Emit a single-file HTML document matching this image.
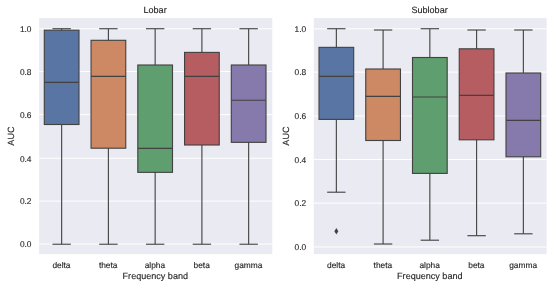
<!DOCTYPE html>
<html><head><meta charset="utf-8"><title>AUC by frequency band</title>
<style>
html,body{margin:0;padding:0;background:#fff;}
svg{display:block}
text{font-family:"Liberation Sans",sans-serif;fill:#262626;stroke:#262626;stroke-width:0.13px;text-rendering:geometricPrecision}
.t{font-size:8.35px}
.l{font-size:9.05px}
.ti{font-size:9.05px}
</style></head><body>
<svg width="550" height="286" viewBox="0 0 550 286">
<rect width="550" height="286" fill="#fff"/>
<rect x="39.1" y="18.06" width="233.20" height="236.04" fill="#EAEAF2"/>
<line x1="39.1" x2="272.3" y1="244.00" y2="244.00" stroke="#fff" stroke-width="1.0"/>
<text x="31.5" y="247.25" text-anchor="end" class="t">0.0</text>
<line x1="39.1" x2="272.3" y1="201.10" y2="201.10" stroke="#fff" stroke-width="1.0"/>
<text x="31.5" y="204.35" text-anchor="end" class="t">0.2</text>
<line x1="39.1" x2="272.3" y1="158.25" y2="158.25" stroke="#fff" stroke-width="1.0"/>
<text x="31.5" y="161.50" text-anchor="end" class="t">0.4</text>
<line x1="39.1" x2="272.3" y1="114.60" y2="114.60" stroke="#fff" stroke-width="1.0"/>
<text x="31.5" y="117.85" text-anchor="end" class="t">0.6</text>
<line x1="39.1" x2="272.3" y1="71.50" y2="71.50" stroke="#fff" stroke-width="1.0"/>
<text x="31.5" y="74.75" text-anchor="end" class="t">0.8</text>
<line x1="39.1" x2="272.3" y1="28.80" y2="28.80" stroke="#fff" stroke-width="1.0"/>
<text x="31.5" y="32.05" text-anchor="end" class="t">1.0</text>
<line x1="61.65" x2="61.65" y1="28.72" y2="244.22" stroke="#424242" stroke-width="1.12"/>
<line x1="52.45" x2="70.85" y1="244.22" y2="244.22" stroke="#424242" stroke-width="1.12"/>
<line x1="52.45" x2="70.85" y1="28.72" y2="28.72" stroke="#424242" stroke-width="1.12"/>
<rect x="44.30" y="30.20" width="34.70" height="94.30" fill="#5875A4" stroke="#424242" stroke-width="1.12"/>
<line x1="44.30" x2="79.00" y1="82.40" y2="82.40" stroke="#424242" stroke-width="1.12"/>
<text x="61.45" y="268.00" text-anchor="middle" class="t">delta</text>
<line x1="108.40" x2="108.40" y1="28.72" y2="244.22" stroke="#424242" stroke-width="1.12"/>
<line x1="99.20" x2="117.60" y1="244.22" y2="244.22" stroke="#424242" stroke-width="1.12"/>
<line x1="99.20" x2="117.60" y1="28.72" y2="28.72" stroke="#424242" stroke-width="1.12"/>
<rect x="91.05" y="40.30" width="34.70" height="107.90" fill="#CC8963" stroke="#424242" stroke-width="1.12"/>
<line x1="91.05" x2="125.75" y1="76.40" y2="76.40" stroke="#424242" stroke-width="1.12"/>
<text x="108.20" y="268.00" text-anchor="middle" class="t">theta</text>
<line x1="155.15" x2="155.15" y1="28.72" y2="244.22" stroke="#424242" stroke-width="1.12"/>
<line x1="145.95" x2="164.35" y1="244.22" y2="244.22" stroke="#424242" stroke-width="1.12"/>
<line x1="145.95" x2="164.35" y1="28.72" y2="28.72" stroke="#424242" stroke-width="1.12"/>
<rect x="137.80" y="65.00" width="34.70" height="107.35" fill="#5F9E6E" stroke="#424242" stroke-width="1.12"/>
<line x1="137.80" x2="172.50" y1="148.40" y2="148.40" stroke="#424242" stroke-width="1.12"/>
<text x="154.95" y="268.00" text-anchor="middle" class="t">alpha</text>
<line x1="201.90" x2="201.90" y1="28.72" y2="244.22" stroke="#424242" stroke-width="1.12"/>
<line x1="192.70" x2="211.10" y1="244.22" y2="244.22" stroke="#424242" stroke-width="1.12"/>
<line x1="192.70" x2="211.10" y1="28.72" y2="28.72" stroke="#424242" stroke-width="1.12"/>
<rect x="184.55" y="52.40" width="34.70" height="92.60" fill="#B55D60" stroke="#424242" stroke-width="1.12"/>
<line x1="184.55" x2="219.25" y1="76.40" y2="76.40" stroke="#424242" stroke-width="1.12"/>
<text x="201.70" y="268.00" text-anchor="middle" class="t">beta</text>
<line x1="248.65" x2="248.65" y1="28.72" y2="244.22" stroke="#424242" stroke-width="1.12"/>
<line x1="239.45" x2="257.85" y1="244.22" y2="244.22" stroke="#424242" stroke-width="1.12"/>
<line x1="239.45" x2="257.85" y1="28.72" y2="28.72" stroke="#424242" stroke-width="1.12"/>
<rect x="231.30" y="65.00" width="34.70" height="77.35" fill="#857AAB" stroke="#424242" stroke-width="1.12"/>
<line x1="231.30" x2="266.00" y1="100.30" y2="100.30" stroke="#424242" stroke-width="1.12"/>
<text x="248.45" y="268.00" text-anchor="middle" class="t">gamma</text>
<text x="155.10" y="13.46" text-anchor="middle" class="ti">Lobar</text>
<text x="155.30" y="279.30" text-anchor="middle" class="l">Frequency band</text>
<text transform="translate(13.80 136.08) rotate(-90)" text-anchor="middle" class="l">AUC</text>
<rect x="313.8" y="18.06" width="232.80" height="236.04" fill="#EAEAF2"/>
<line x1="313.8" x2="546.6" y1="246.95" y2="246.95" stroke="#fff" stroke-width="1.0"/>
<text x="306.2" y="250.20" text-anchor="end" class="t">0.0</text>
<line x1="313.8" x2="546.6" y1="203.10" y2="203.10" stroke="#fff" stroke-width="1.0"/>
<text x="306.2" y="206.35" text-anchor="end" class="t">0.2</text>
<line x1="313.8" x2="546.6" y1="159.45" y2="159.45" stroke="#fff" stroke-width="1.0"/>
<text x="306.2" y="162.70" text-anchor="end" class="t">0.4</text>
<line x1="313.8" x2="546.6" y1="116.00" y2="116.00" stroke="#fff" stroke-width="1.0"/>
<text x="306.2" y="119.25" text-anchor="end" class="t">0.6</text>
<line x1="313.8" x2="546.6" y1="72.10" y2="72.10" stroke="#fff" stroke-width="1.0"/>
<text x="306.2" y="75.35" text-anchor="end" class="t">0.8</text>
<line x1="313.8" x2="546.6" y1="28.80" y2="28.80" stroke="#fff" stroke-width="1.0"/>
<text x="306.2" y="32.05" text-anchor="end" class="t">1.0</text>
<line x1="336.35" x2="336.35" y1="28.72" y2="192.20" stroke="#424242" stroke-width="1.12"/>
<line x1="327.15" x2="345.55" y1="192.20" y2="192.20" stroke="#424242" stroke-width="1.12"/>
<line x1="327.15" x2="345.55" y1="28.72" y2="28.72" stroke="#424242" stroke-width="1.12"/>
<rect x="319.00" y="47.35" width="34.70" height="72.05" fill="#5875A4" stroke="#424242" stroke-width="1.12"/>
<line x1="319.00" x2="353.70" y1="76.40" y2="76.40" stroke="#424242" stroke-width="1.12"/>
<text x="336.15" y="268.00" text-anchor="middle" class="t">delta</text>
<line x1="383.10" x2="383.10" y1="30.00" y2="244.00" stroke="#424242" stroke-width="1.12"/>
<line x1="373.90" x2="392.30" y1="244.00" y2="244.00" stroke="#424242" stroke-width="1.12"/>
<line x1="373.90" x2="392.30" y1="30.00" y2="30.00" stroke="#424242" stroke-width="1.12"/>
<rect x="365.75" y="69.00" width="34.70" height="71.50" fill="#CC8963" stroke="#424242" stroke-width="1.12"/>
<line x1="365.75" x2="400.45" y1="96.40" y2="96.40" stroke="#424242" stroke-width="1.12"/>
<text x="382.90" y="268.00" text-anchor="middle" class="t">theta</text>
<line x1="429.85" x2="429.85" y1="28.72" y2="240.20" stroke="#424242" stroke-width="1.12"/>
<line x1="420.65" x2="439.05" y1="240.20" y2="240.20" stroke="#424242" stroke-width="1.12"/>
<line x1="420.65" x2="439.05" y1="28.72" y2="28.72" stroke="#424242" stroke-width="1.12"/>
<rect x="412.50" y="57.50" width="34.70" height="115.90" fill="#5F9E6E" stroke="#424242" stroke-width="1.12"/>
<line x1="412.50" x2="447.20" y1="97.00" y2="97.00" stroke="#424242" stroke-width="1.12"/>
<text x="429.65" y="268.00" text-anchor="middle" class="t">alpha</text>
<line x1="476.60" x2="476.60" y1="30.00" y2="235.70" stroke="#424242" stroke-width="1.12"/>
<line x1="467.40" x2="485.80" y1="235.70" y2="235.70" stroke="#424242" stroke-width="1.12"/>
<line x1="467.40" x2="485.80" y1="30.00" y2="30.00" stroke="#424242" stroke-width="1.12"/>
<rect x="459.25" y="48.80" width="34.70" height="91.00" fill="#B55D60" stroke="#424242" stroke-width="1.12"/>
<line x1="459.25" x2="493.95" y1="95.40" y2="95.40" stroke="#424242" stroke-width="1.12"/>
<text x="476.40" y="268.00" text-anchor="middle" class="t">beta</text>
<line x1="523.35" x2="523.35" y1="30.00" y2="233.80" stroke="#424242" stroke-width="1.12"/>
<line x1="514.15" x2="532.55" y1="233.80" y2="233.80" stroke="#424242" stroke-width="1.12"/>
<line x1="514.15" x2="532.55" y1="30.00" y2="30.00" stroke="#424242" stroke-width="1.12"/>
<rect x="506.00" y="73.00" width="34.70" height="83.80" fill="#857AAB" stroke="#424242" stroke-width="1.12"/>
<line x1="506.00" x2="540.70" y1="120.40" y2="120.40" stroke="#424242" stroke-width="1.12"/>
<text x="523.15" y="268.00" text-anchor="middle" class="t">gamma</text>
<path d="M336.35 228.00 L338.35 231.20 L336.35 234.40 L334.35 231.20 Z" fill="#424242"/>
<text x="429.60" y="13.46" text-anchor="middle" class="ti">Sublobar</text>
<text x="429.80" y="279.30" text-anchor="middle" class="l">Frequency band</text>
<text transform="translate(288.50 136.08) rotate(-90)" text-anchor="middle" class="l">AUC</text>
</svg>
</body></html>
